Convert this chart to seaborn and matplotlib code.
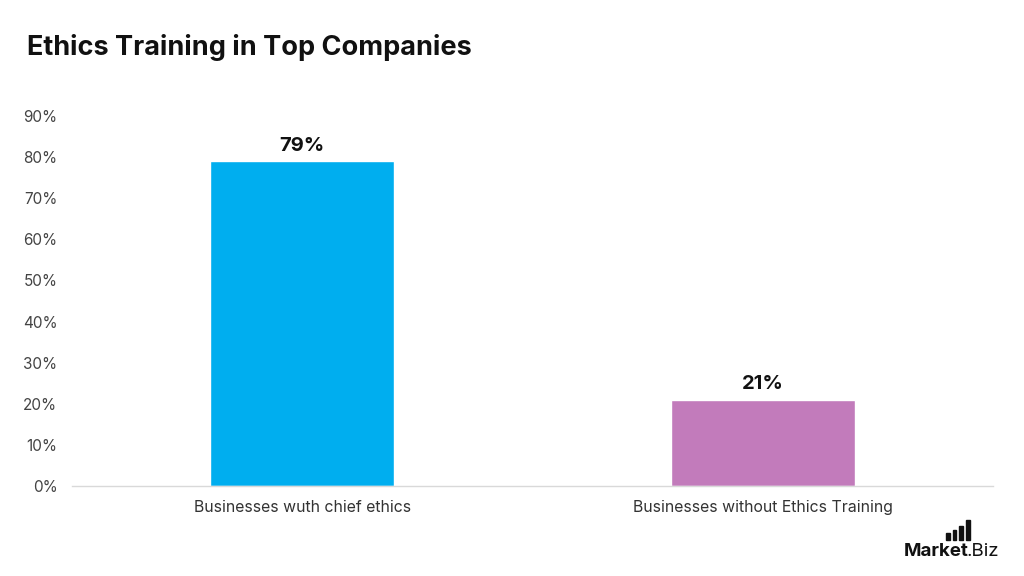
import matplotlib
matplotlib.use("Agg")
import matplotlib.pyplot as plt
import seaborn as sns
import pandas as pd
from matplotlib.ticker import FuncFormatter

# ================= DATA =================
categories = ["Businesses wuth chief ethics", "Businesses without Ethics Training"]
values = [79, 21]
bar_colors = ["#00AEEF", "#C27BBB"]
y_ticks = [0, 10, 20, 30, 40, 50, 60, 70, 80, 90]

df = pd.DataFrame({"category": categories, "value": values})

sns.set_theme(style="white")
plt.rcParams["font.family"] = ["Inter", "DejaVu Sans"]

fig = plt.figure(figsize=(10.24, 5.76), dpi=100)
ax = fig.add_axes([0.0703, 0.15625, 0.8994, 0.6424])

sns.barplot(data=df, x="category", y="value", hue="category",
            palette=bar_colors, width=0.4, legend=False, ax=ax,
            saturation=1)

ax.set_xlim(-0.5, 1.5)
ax.set_ylim(0, 90)
ax.set_yticks(y_ticks)
ax.yaxis.set_major_formatter(FuncFormatter(lambda v, _: f"{v:.0f}%"))
ax.tick_params(axis="y", labelsize=11, labelcolor="#444444", length=0, pad=10.5)
ax.tick_params(axis="x", labelsize=11.4, labelcolor="#333333", length=0, pad=10)
ax.set_xlabel("")
ax.set_ylabel("")

for s in ["top", "right", "left"]:
    ax.spines[s].set_visible(False)
ax.spines["bottom"].set_color("#D9D9D9")
ax.spines["bottom"].set_linewidth(1)

for i, v in enumerate(values):
    ax.text(i, v + 1.5, f"{v}%", ha="center", va="bottom",
            fontsize=14.5, fontweight="bold", color="#111111", clip_on=False)

# ================= TITLE & LOGO =================
fig.text(0.026, 0.918, "Ethics Training in Top Companies",
         fontsize=19.5, fontweight="bold", color="#111111", va="center")

fig.text(0.883, 0.035, "Market", fontsize=13.5, fontweight="bold",
         color="#111111", va="baseline")
fig.text(0.9435, 0.035, ".Biz", fontsize=13.5, color="#111111", va="baseline")
for k, h in enumerate([0.012, 0.018, 0.024, 0.035]):
    fig.patches.append(plt.Rectangle((0.924 + k * 0.0065, 0.062), 0.0035, h,
                                     transform=fig.transFigure,
                                     color="#111111", zorder=5))

fig.savefig("out.png", dpi=100)
